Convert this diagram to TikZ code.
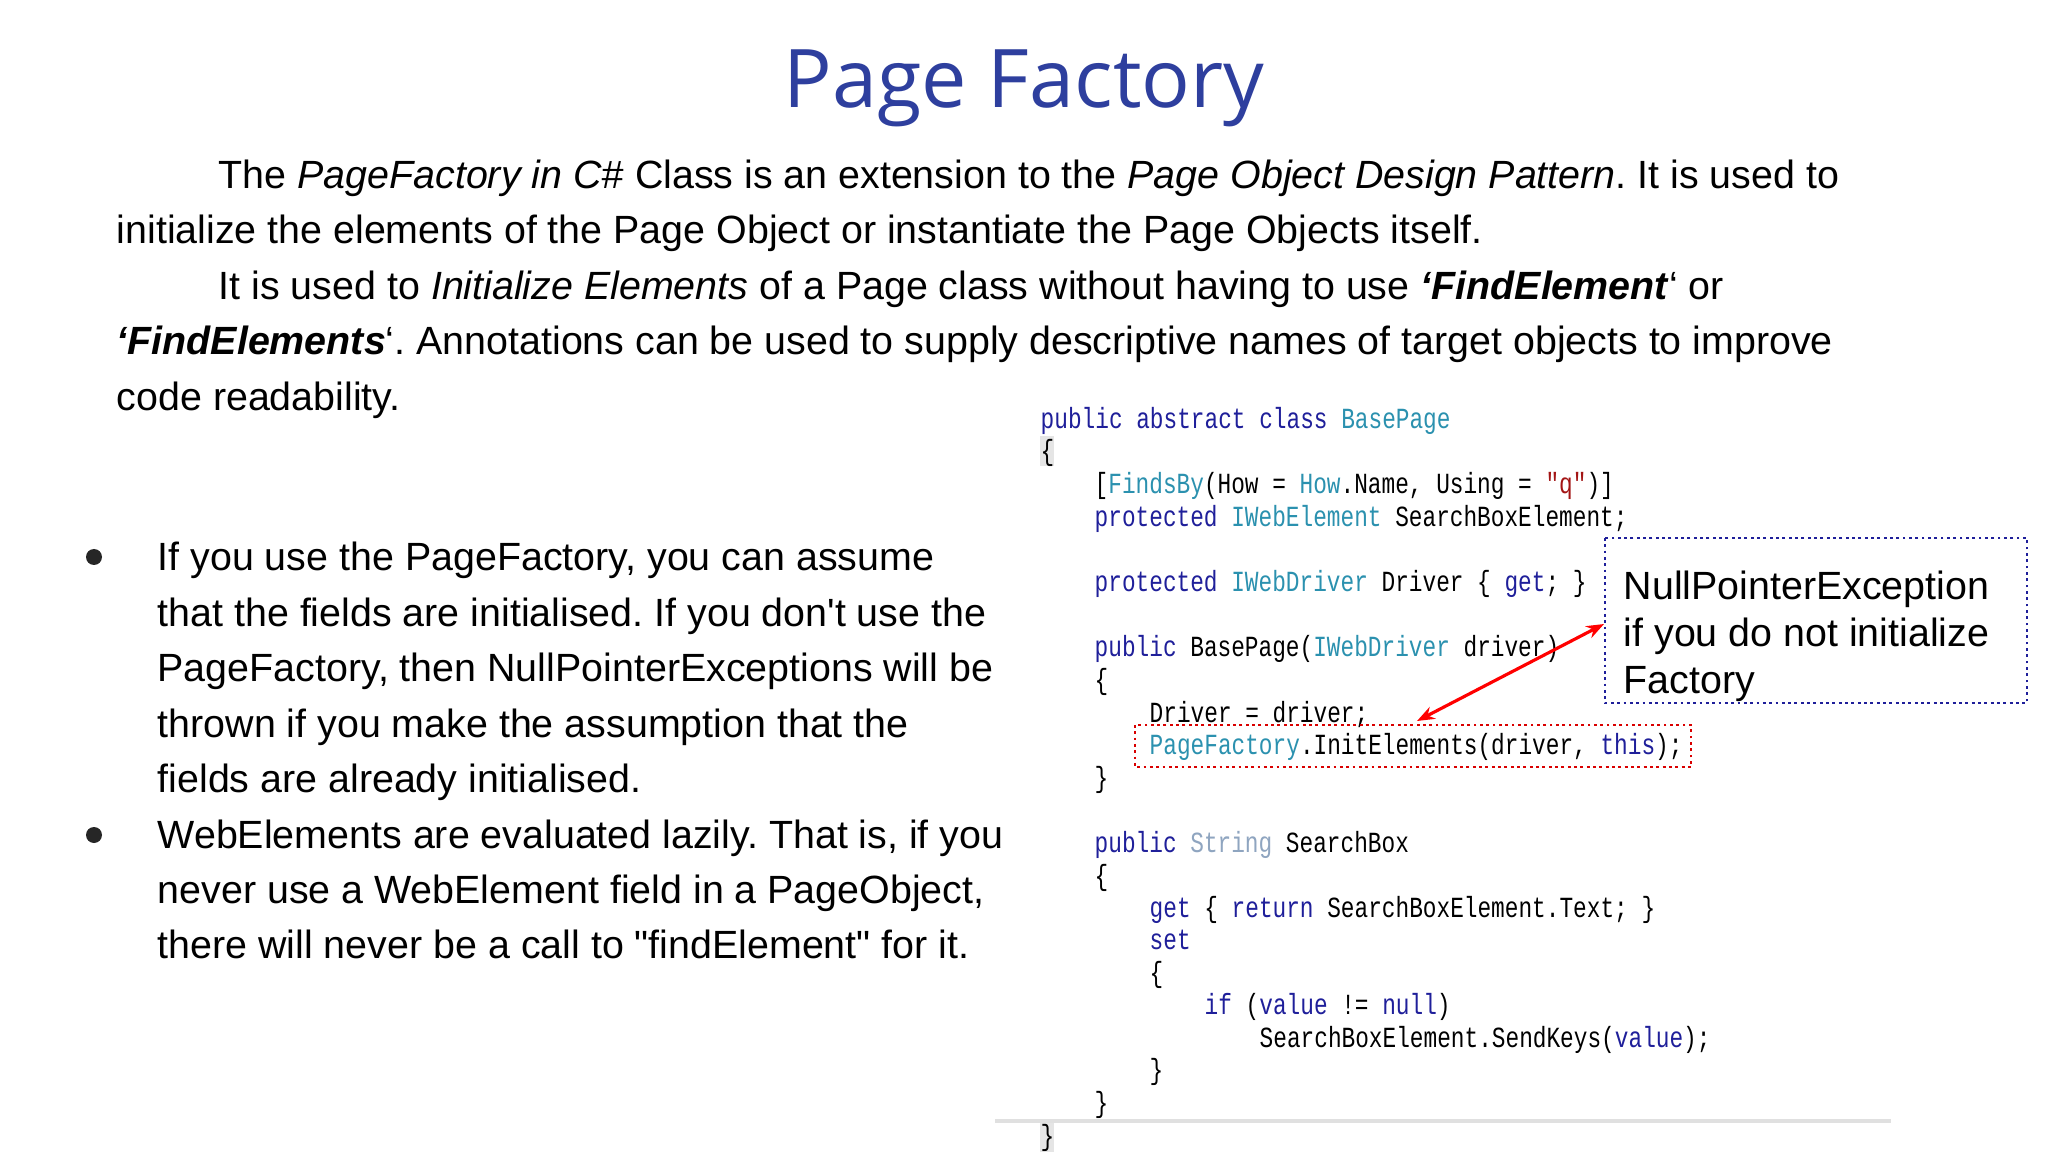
\documentclass[tikz,border=0pt]{standalone}
\usepackage{fontspec}
\usetikzlibrary{arrows.meta}
\setmainfont{Liberation Sans}[Ligatures=TeXOff]
\newfontfamily\titlefont{Open Sans}
\newfontfamily\codefont[FakeStretch=0.78]{Liberation Mono}
\definecolor{titleblue}{HTML}{2E3F9E}
\definecolor{kwc}{HTML}{1F1F9A}
\definecolor{tyc}{HTML}{2B91AF}
\definecolor{stc}{HTML}{A31515}
\definecolor{grc}{HTML}{8FA5C0}
\newcommand{\kw}[1]{\textcolor{kwc}{#1}}
\newcommand{\ty}[1]{\textcolor{tyc}{#1}}
\newcommand{\stx}[1]{\textcolor{stc}{#1}}
\frenchspacing
\begin{document}
\begin{tikzpicture}[x=0.01cm,y=-0.01cm,
  body/.style={anchor=base west,inner sep=0,yshift=-1.1pt,font=\frenchspacing\fontsize{11.2pt}{13pt}\selectfont},
  code/.style={anchor=base west,inner sep=0,yshift=-0.8pt,font=\codefont\fontsize{8.3pt}{10pt}\selectfont}]
\useasboundingbox[fill=white] (0,0) rectangle (2048,1152);
\node[inner sep=0,text=titleblue,font=\titlefont\fontsize{23pt}{27pt}\selectfont] (title) at (1024,88) {Page Factory};
\node[body] (p1) at (218,185) {The \textit{PageFactory in C\#} Class is an extension to the \textit{Page Object Design Pattern}. It is used to};
\node[body] (p2) at (116,240) {initialize the elements of the Page Object or instantiate the Page Objects itself.};
\node[body] (p3) at (218,296) {It is used to \textit{Initialize Elements} of a Page class without having to use \textbf{\textit{‘FindElement}}‘ or};
\node[body] (p4) at (116,351) {\textbf{\textit{‘FindElements}}‘. Annotations can be used to supply descriptive names of target objects to improve};
\node[body] (p5) at (116,407) {code readability.};
\foreach \y/\t [count=\i] in {567/If you use the PageFactory\comma{} you can assume,623/that the fields are initialised. If you don't use the,678/PageFactory\comma{} then NullPointerExceptions will be,734/thrown if you make the assumption that the,789/fields are already initialised.,845/WebElements are evaluated lazily. That is\comma{} if you,900/never use a WebElement field in a PageObject\comma,955/there will never be a call to "findElement" for it.}
  \node[body] (b\i) at (157,\y) {\def\comma{,}\t};
\fill[black!85] (94,557) circle (8) (94,835) circle (8);
\node[code] (c0) at (1040,426) {\kw{public abstract class} \ty{BasePage}};
\fill[black!10] (1040,436) rectangle (1054,466);
\node[code] (c1) at (1040,458) {\{};
\node[code] (c2) at (1094,491) {[\ty{FindsBy}(How = \ty{How}.Name, Using = \stx{"q"})]};
\node[code] (c3) at (1094,524) {\kw{protected} \ty{IWebElement} SearchBoxElement;};
\node[code] (c4) at (1094,589) {\kw{protected} \ty{IWebDriver} Driver \{ \kw{get}; \}};
\node[code] (c5) at (1094,654) {\kw{public} BasePage(\ty{IWebDriver} driver)};
\node[code] (c6) at (1094,687) {\{};
\node[code] (c7) at (1149,720) {Driver = driver;};
\node[code] (c8) at (1149,752) {\ty{PageFactory}.InitElements(driver, \kw{this});};
\node[code] (c9) at (1094,785) {\}};
\node[code] (c10) at (1094,850) {\kw{public} \textcolor{grc}{String} SearchBox};
\node[code] (c11) at (1094,883) {\{};
\node[code] (c12) at (1149,915) {\kw{get} \{ \kw{return} SearchBoxElement.Text; \}};
\node[code] (c13) at (1149,947) {\kw{set}};
\node[code] (c14) at (1149,980) {\{};
\node[code] (c15) at (1204,1012) {\kw{if} (\kw{value} != \kw{null})};
\node[code] (c16) at (1259,1045) {SearchBoxElement.SendKeys(\kw{value});};
\node[code] (c17) at (1149,1077) {\}};
\node[code] (c18) at (1094,1110) {\}};
\fill[black!10] (1040,1122) rectangle (1054,1152);
\node[code] (c19) at (1040,1143) {\}};
\draw[black!12,line width=1.2pt] (995,1121) -- (1891,1121);
\draw[red!85!black,densely dotted,line width=0.8pt] (1135,725) rectangle (1691,767);
\draw[kwc,densely dotted,line width=0.8pt] (1605,538) rectangle (2027,703);
\node[body] (n1) at (1623,596) {NullPointerException};
\node[body] (n2) at (1623,643) {if you do not initialize};
\node[body] (n3) at (1623,690) {Factory};
\coordinate (a1) at (1417,721);
\coordinate (a2) at (1604,624);
\draw[red,line width=0.9pt,{Stealth[length=5pt]}-{Stealth[length=5pt]}] (a1) -- (a2);
\end{tikzpicture}
\end{document}
